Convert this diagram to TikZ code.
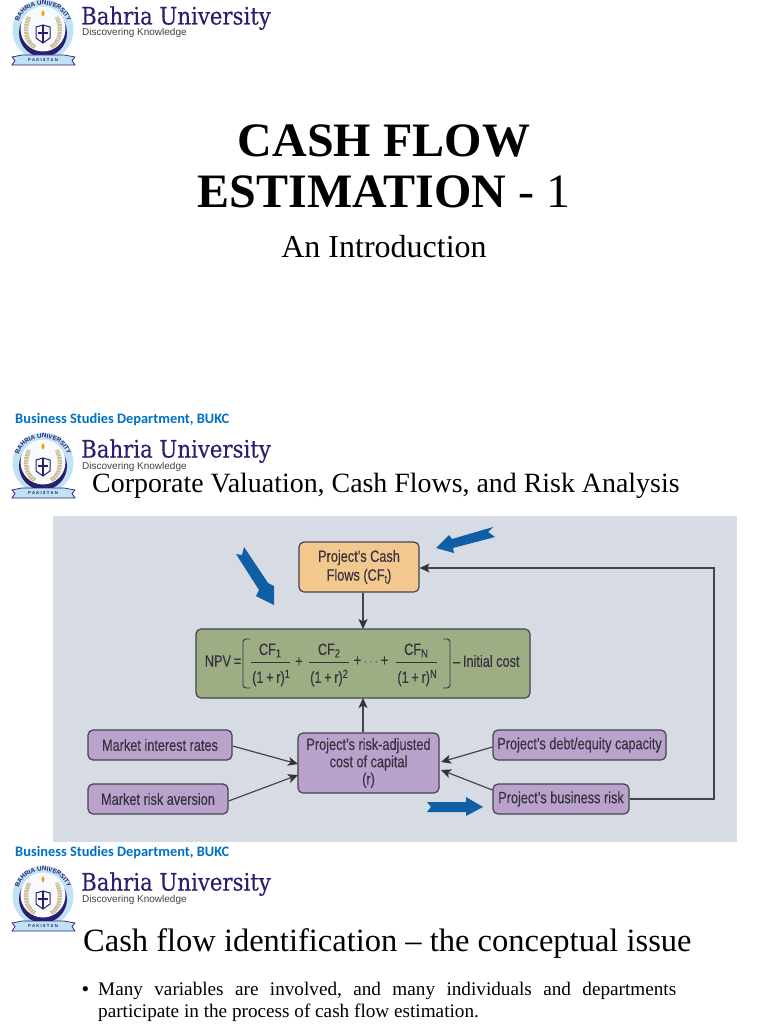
\documentclass[tikz,border=0pt]{standalone}
\usepackage{fontspec}
\usepackage{graphicx}
\setmainfont{Liberation Serif}
\newfontfamily\arialf{Liberation Sans}
\newfontfamily\condf[FakeStretch=0.78,FakeBold=0.25]{Liberation Sans}
\newfontfamily\carl{Carlito}
\newfontfamily\logof[FakeBold=0.3]{DejaVu Serif}
\usetikzlibrary{arrows.meta,decorations.text}
\definecolor{navy}{HTML}{2A1F6E}
\definecolor{panel}{HTML}{D7DBE3}
\definecolor{orangebox}{HTML}{F2C88F}
\definecolor{greenbox}{HTML}{9DAE84}
\definecolor{purplebox}{HTML}{B9A2CC}
\definecolor{edgec}{HTML}{46434C}
\definecolor{inkc}{HTML}{38323F}
\definecolor{bluearrow}{HTML}{0F5FA6}
\definecolor{linkblue}{HTML}{0070C0}
\definecolor{sealblue}{HTML}{BFE2F4}
\definecolor{wreath}{HTML}{CDBE96}
\newcommand{\fsz}[1]{\fontsize{#1}{#1}\selectfont}
\newcommand{\sbs}[1]{\raisebox{-2.5pt}{\scalebox{.72}{#1}}}
\newcommand{\sps}[1]{\raisebox{5pt}{\scalebox{.72}{#1}}}
\tikzset{
  boxbase/.style={draw=edgec,line width=1.2pt,rounded corners=5pt,inner sep=0pt,
    text=inkc,align=center,font=\condf\fsz{16.3}},
  purple box/.style={boxbase,fill=purplebox},
  link/.style={draw=edgec,line width=1.2pt,-{Stealth[length=10pt,width=9pt,inset=2.5pt,color=black!80]}},
  formula/.style={text=inkc,font=\condf\fsz{16.3},inner sep=0pt},
  fracbar/.style={draw=inkc,line width=.7pt},
  brace line/.style={draw=inkc,line width=.9pt,rounded corners=3pt},
  blue arrow/.style={fill=bluearrow,draw=none},
  footer/.style={anchor=base west,inner sep=0pt,text=linkblue,font=\carl\bfseries\fsz{14.4}},
  title text/.style={anchor=base,inner sep=0pt,text=black},
  slide head/.style={anchor=base west,inner sep=0pt,text=black},
}
\newcommand{\logo}[2]{%
  \begin{scope}[shift={(0,#2)}]
    \fill[sealblue] (43,30) circle (30.5);
    \fill[navy] (43,33) circle (24);
    \fill[white!88!sealblue] (43,29) circle (22.5);
    \path[decorate,decoration={text along path,text align=center,
      text={|\arialf\bfseries\fsz{6.2}\color{navy}|BAHRIA UNIVERSITY}}]
      (17.5,30) .. controls (17.5,-3.5) and (68.5,-3.5) .. (68.5,30);
    \draw[wreath,line width=4.4pt,dash pattern=on 2pt off .7pt] (35,47) .. controls (25,42) and (24,28) .. (29,17);
    \draw[wreath,line width=4.4pt,dash pattern=on 2pt off .7pt] (51,47) .. controls (61,42) and (62,28) .. (57,17);
    \fill[orange!85!yellow] (43,10) .. controls (41,13) and (41,15) .. (43,17) .. controls (45,15) and (45,13) .. (43,10);
    \draw[navy,line width=1pt] (36,27) -- (43,25) -- (50,27) -- (50,38) -- (43,43) -- (36,38) -- cycle;
    \draw[navy,line width=1.1pt] (43,25) -- (43,42) (38,33) -- (48,33);
    \draw[navy,line width=.7,fill=sealblue] (12,57) -- (22,55) -- (64,55) -- (75,57) -- (72,60.5) -- (75,65) -- (12,65) -- (15,60.5) -- cycle;
    \node[inner sep=0pt,text=navy,font=\arialf\bfseries\fsz{4.2}] (seal#1) at (43,60.5) {P A K I S T A N};
    \node[anchor=base west,inner sep=0pt,text=navy,font=\logof\fsz{24}] (brand#1) at (81,24.5) {\scalebox{.885}[1]{Bahria University}};
    \node[anchor=base west,inner sep=0pt,text=black!75,font=\arialf\fsz{10}] (motto#1) at (82,36) {Discovering Knowledge};
  \end{scope}}
\begin{document}
\begin{tikzpicture}[x=1pt,y=-1pt]
\useasboundingbox (0,0) rectangle (768,1024);
% logos
\logo{a}{0}
\logo{b}{433}
\logo{c}{866}
% slide 1
\node[title text,font=\bfseries\fsz{48}] (t1) at (384,157) {CASH FLOW};
\node[title text,font=\fsz{48}] (t2) at (384,208) {\textbf{ESTIMATION} - 1};
\node[title text,font=\fsz{32}] (t3) at (384,257) {An Introduction};
\node[footer] (f1) at (15,423) {Business Studies Department, BUKC};
% slide 2
\node[slide head,font=\fsz{27.9}] (h2) at (92,492) {Corporate Valuation, Cash Flows, and Risk Analysis};
\fill[panel] (53,516) rectangle (737,842);
\node[boxbase,fill=orangebox,minimum width=120pt,minimum height=50pt] (cf) at (359,567)
  {Project’s Cash\\[2.5pt]Flows (CF\sbs{t})};
\node[boxbase,fill=greenbox,minimum width=334pt,minimum height=69pt] (npv) at (363,663.5) {};
\node[purple box,minimum width=141pt,minimum height=60pt] (rac) at (368.5,763)
  {Project’s risk-adjusted\\[1pt]cost of capital\\[1pt](r)};
\node[purple box,minimum width=144pt,minimum height=30pt] (mir) at (160,745) {Market interest rates};
\node[purple box,minimum width=140pt,minimum height=30pt] (mra) at (158,799) {Market risk aversion};
\node[purple box,minimum width=173pt,minimum height=30pt] (dec) at (579.5,745) {Project’s debt/equity capacity};
\node[purple box,minimum width=136pt,minimum height=30pt] (pbr) at (561,799) {Project’s business risk};
% formula
\node[formula] (npvl) at (223,661) {NPV\,=};
\node[formula] (n1) at (270,650.5) {CF\sbs{1}};
\node[formula] (d1) at (271,678) {(1\,+\,r)\sps{1}};
\node[formula] (p1) at (299,662) {+};
\node[formula] (n2) at (329,650.5) {CF\sbs{2}};
\node[formula] (d2) at (329,678) {(1\,+\,r)\sps{2}};
\node[formula] (dots) at (371,661) {+\,\scalebox{.7}{$\cdots$}\,+};
\node[formula] (nn) at (416,650.5) {CF\sbs{N}};
\node[formula] (dn) at (417,678) {(1\,+\,r)\sps{N}};
\node[formula,anchor=west] (cost) at (453,661) {–\,Initial cost};
\draw[fracbar] (251,662) -- (290,662);
\draw[fracbar] (309,662) -- (349,662);
\draw[fracbar] (396,662) -- (437,662);
\draw[brace line] (250,639) -- (243,639) -- (243,688) -- (250,688);
\draw[brace line] (443,639) -- (450,639) -- (450,688) -- (443,688);
% connectors
\coordinate (corner1) at (714,799);
\coordinate (corner2) at (714,568);
\draw[link] (cf.south -| 363,592) -- (363,629);
\draw[link] (rac.north -| 363,733) -- (363,698);
\draw[link] (mir.east) ++(0,1) -- (298,764);
\draw[link] (mra.east) ++(0,2) -- (298,775);
\draw[link] (dec.west) ++(0,2) -- (441,762);
\draw[link] (pbr.west) ++(0,-9) -- (441,770);
\draw[link] (pbr.east) -- (corner1) -- (corner2) -- (cf.east |- corner2);
% highlight arrows
\fill[blue arrow] (236,554) -- (242,555) -- (244,547) -- (268,583) -- (274,586) -- (274,605) -- (256,596) -- (259,590) -- cycle;
\fill[blue arrow] (436,548) -- (449,535) -- (452,539) -- (493,527) -- (488,532) -- (495,537) -- (453,548) -- (454,553) -- cycle;
\fill[blue arrow] (427,802) -- (466,802) -- (466,797) -- (483,807) -- (466,816) -- (466,812) -- (427,812) -- (431,807) -- cycle;
\node[footer] (f2) at (15,856) {Business Studies Department, BUKC};
% slide 3
\node[slide head,font=\fsz{32.5}] (h3) at (83,951) {Cash flow identification – the conceptual issue};
\node[slide head,font=\arialf\fsz{19}] (bu) at (82,995) {•};
\node[slide head,font=\fsz{19.2}] (l1) at (98,995.5) {\hbox to 578pt{Many\hfill variables\hfill are\hfill involved,\hfill and\hfill many\hfill individuals\hfill and\hfill departments}};
\node[slide head,font=\fsz{19.2}] (l2) at (98,1017) {participate in the process of cash flow estimation.};
\end{tikzpicture}
\end{document}
